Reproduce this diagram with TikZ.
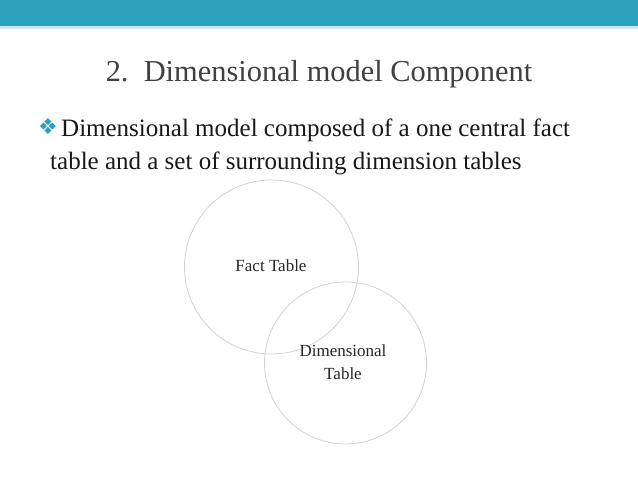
\documentclass[tikz,border=0pt]{standalone}
\usepackage{fontspec}
\setmainfont{Liberation Serif}
\newfontfamily\symfont{DejaVu Sans}
\usetikzlibrary{shapes}
\definecolor{barteal}{HTML}{2BA0BF}
\definecolor{barline}{HTML}{CFE9F1}
\definecolor{ringgray}{HTML}{D2D2D2}
\tikzset{
  ring/.style={circle,draw=ringgray,line width=0.8pt,inner sep=0pt},
  label/.style={font=\fontsize{17}{23}\selectfont,text=black!85,align=center},
  bodytext/.style={anchor=base west,inner sep=0pt,font=\fontsize{25}{28}\selectfont,text=black!90}
}

\begin{document}
\begin{tikzpicture}[x=1pt,y=-1pt]
\useasboundingbox[fill=white] (0,0) rectangle (638,478);
\fill[barteal] (0,0) rectangle (638,26);
\fill[barline] (0,26) rectangle (638,29);

\node[anchor=base,inner sep=0pt,font=\fontsize{30.4}{36}\selectfont,text=black!75] (title) at (319,82) {2.\ \ Dimensional model Component};

\node[anchor=base west,inner sep=0pt,font=\symfont\fontsize{22}{24}\selectfont,text=barteal] (bul) at (38,135) {❖};
\node[bodytext] (line1) at (61,137) {Dimensional model composed of a one central fact};
\node[bodytext] (line2) at (50,170) {table and a set of surrounding dimension tables};

\node[ring,minimum size=174pt] (fact) at (271.5,267) {};
\node[ring,minimum size=162pt] (dim) at (345.5,363) {};

\node[label] (factlbl) at (271,266) {Fact Table};
\node[label] (dimlbl) at (343,362) {Dimensional\\Table};

\end{tikzpicture}
\end{document}
